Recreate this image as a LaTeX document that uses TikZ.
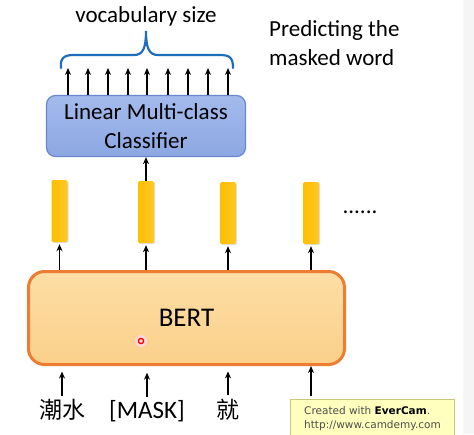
\documentclass[tikz,border=0pt]{standalone}
\usepackage{fontspec}
\setmainfont{Carlito}
\newfontfamily\cjk{Noto Sans CJK SC}
\newfontfamily\wmfont{DejaVu Sans}
\usetikzlibrary{arrows.meta,shadows}
\definecolor{clffill}{RGB}{140,168,226}
\definecolor{clftop}{RGB}{164,186,236}
\definecolor{clfdraw}{RGB}{105,135,205}
\definecolor{bertfill}{RGB}{251,208,138}
\definecolor{berttop}{RGB}{253,222,165}
\definecolor{bertdraw}{RGB}{237,125,49}
\definecolor{barfill}{RGB}{255,190,0}
\definecolor{bracecol}{RGB}{30,110,190}
\definecolor{wmfill}{RGB}{255,255,190}
\definecolor{wmdraw}{RGB}{200,200,120}
\begin{document}
\begin{tikzpicture}[x=1pt,y=-1pt,
  arr/.style={-{Stealth[length=7pt,width=6pt]}, line width=1.8pt, black},
  clf/.style={draw=clfdraw, line width=1.2pt, rounded corners=9pt, top color=clftop, bottom color=clffill,
    minimum width=199pt, minimum height=61pt, align=center, font=\fontsize{23}{29}\selectfont, inner sep=0pt},
  bertbox/.style={draw=bertdraw, line width=3pt, rounded corners=16pt, top color=berttop, bottom color=bertfill,
    minimum width=316pt, minimum height=93pt, font=\fontsize{27}{30}\selectfont, inner sep=0pt},
  barbox/.style={left color=barfill, right color=barfill!85!white, rounded corners=1.5pt, minimum width=16pt, minimum height=62pt, inner sep=0pt,
    drop shadow={shadow xshift=1pt, shadow yshift=-1pt, opacity=0.25}},
  txt/.style={font=\fontsize{23}{29}\selectfont, inner sep=0pt},
  word/.style={font=\fontsize{25}{28}\selectfont, inner sep=0pt, anchor=base},
]
\fill[white] (0,0) rectangle (474,434);
\fill[black!4] (463,0) rectangle (474,434);
\useasboundingbox (0,0) rectangle (474,434);

% top text
\node[txt, anchor=base] (voc) at (146,22) {vocabulary size};
\node[txt, anchor=north west, align=left] (pred) at (269,20) {Predicting the\\masked word};

% brace
\draw[bracecol, line width=2.2pt, line cap=round]
  (61,68) .. controls (60,58) and (64,55) .. (74,55) -- (134,55)
  .. controls (143,55) and (146,48) .. (146,31)
  .. controls (146,48) and (149,55) .. (158,55) -- (220,55)
  .. controls (230,55) and (233,58) .. (233,68);

% classifier
\node[clf] (clf) at (146,126) {Linear Multi-class\\Classifier};
\foreach \x [count=\i] in {68,88,108,128,147,168,188,208,228} {
  \coordinate (t\i) at (\x,68);
  \draw[arr] (clf.north -| t\i) -- (t\i);
}

% bars
\node[barbox] (b1) at (59.5,211) {};
\node[barbox] (b2) at (146,212) {};
\node[barbox] (b3) at (228,213) {};
\node[barbox] (b4) at (311,213) {};
\node[txt] (dots) at (360,212) {......};

\draw[arr] (b2.north) -- (clf.south -| b2);

% BERT
\node[bertbox] (bert) at (186.5,318) {BERT};
\foreach \i in {1,2,3,4} {
  \draw[arr, shorten >=2pt] (bert.north -| b\i) -- (b\i.south);
}

% red pointer
\fill[red!15] (141,341) circle (6pt);
\draw[red, line width=1.3pt] (141,341) circle (2.6pt);

% inputs
\node[word, font=\cjk\fontsize{23}{28}\selectfont] (w1) at (62,418) {潮水};
\node[word] (w2) at (147,418) {[MASK]};
\node[word, font=\cjk\fontsize{23}{28}\selectfont] (w3) at (228,418) {就};
\coordinate (w4) at (311,396);
\foreach \i in {1,2,3} {
  \draw[arr] (w\i.north) ++(0,-3) -- ++(0,-24);
}
\draw[arr] (w4) -- (w4 |- bert.south);

% watermark
\node[draw=wmdraw, fill=wmfill, line width=1pt, minimum width=164pt, minimum height=38pt, anchor=north west,
  inner xsep=7pt, inner ysep=0pt, align=left, font=\wmfont\fontsize{10.5}{14}\selectfont, text=black!70] (wm) at (290,399)
  {Created with \textbf{\textcolor{black}{EverCam}}.\\ http://www.camdemy.com};
\end{tikzpicture}
\end{document}
